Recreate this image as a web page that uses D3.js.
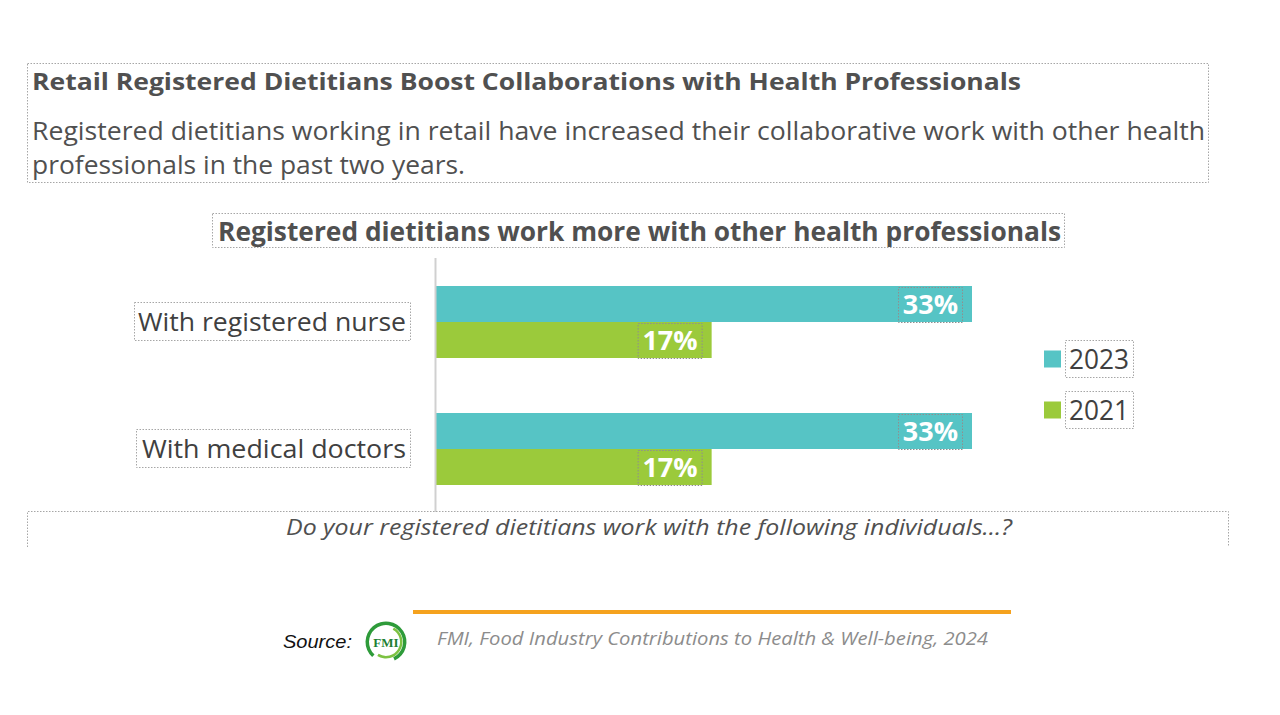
<!DOCTYPE html>
<html><head><meta charset="utf-8">
<script src="https://cdn.jsdelivr.net/npm/d3@7"></script>
<style>body{margin:0;background:#fff}svg{display:block}</style>
</head><body>
<script>
const categories = ["With registered nurse", "With medical doctors"];
const seriesNames = ["2023", "2021"];
const values2023 = [33, 33];
const values2021 = [17, 17];
const colors = ["#56C4C5", "#9BCA3B"];

const W = 1280, H = 715;
const svg = d3.select("body").append("svg").attr("width", W).attr("height", H);
const font = "'Open Sans', 'Noto Sans', sans-serif";
const txt = "#505050";

function dotted(x, y, w, h) {
  svg.append("rect").attr("x", x).attr("y", y).attr("width", w).attr("height", h)
    .attr("fill", "none").attr("stroke", "#a6a6a6").attr("stroke-width", 1)
    .attr("stroke-dasharray", "1.5,1.5");
}

// Header box
dotted(27.5, 63.5, 1181, 119);
svg.append("text").attr("x", 32).attr("y", 90).attr("font-family", font).attr("font-weight", 700)
  .attr("font-size", 24).attr("fill", txt).attr("textLength", 989).attr("lengthAdjust", "spacingAndGlyphs")
  .text("Retail Registered Dietitians Boost Collaborations with Health Professionals");
svg.append("text").attr("x", 32).attr("y", 140).attr("font-family", font)
  .attr("font-size", 25).attr("fill", txt).attr("textLength", 1173).attr("lengthAdjust", "spacingAndGlyphs")
  .text("Registered dietitians working in retail have increased their collaborative work with other health");
svg.append("text").attr("x", 32).attr("y", 174).attr("font-family", font)
  .attr("font-size", 25).attr("fill", txt).attr("textLength", 433).attr("lengthAdjust", "spacingAndGlyphs")
  .text("professionals in the past two years.");

// Chart title
dotted(212.5, 213.5, 852, 34);
svg.append("text").attr("x", 218).attr("y", 241).attr("font-family", font).attr("font-weight", 700)
  .attr("font-size", 27).attr("fill", txt).attr("textLength", 843).attr("lengthAdjust", "spacingAndGlyphs")
  .text("Registered dietitians work more with other health professionals");

// Scales
const x = d3.scaleLinear().domain([0, 33]).range([435, 972]);
const y = d3.scaleBand().domain(categories).range([258.5, 512.5]);
const inner = d3.scaleBand().domain(seriesNames).range([0, 72]);
const bandOff = (y.bandwidth() - 72) / 2;

const data = categories.map((c, i) => ({cat: c, vals: [values2023[i], values2021[i]]}));

const g = svg.append("g");
data.forEach(d => {
  d.vals.forEach((v, j) => {
    const yy = y(d.cat) + bandOff + inner(seriesNames[j]);
    g.append("rect").attr("x", x(0)).attr("y", yy).attr("width", x(v) - x(0))
      .attr("height", inner.bandwidth()).attr("fill", colors[j]);
    const xr = x(v) - 10;
    svg.append("rect").attr("x", xr - 64 + 0.5).attr("y", yy + 1.5).attr("width", 64).attr("height", 35)
      .attr("fill", "none").attr("stroke", "#8f8f8f").attr("stroke-dasharray", "1.5,1.5");
    svg.append("text").attr("x", xr - 4).attr("y", yy + 28).attr("text-anchor", "end")
      .attr("font-family", font).attr("font-weight", 700).attr("font-size", 27).attr("fill", "#fff")
      .text(v + "%");
  });
});

// Axis line
svg.append("line").attr("x1", 435.5).attr("x2", 435.5).attr("y1", 258).attr("y2", 512)
  .attr("stroke", "#d0d0d0").attr("stroke-width", 2);

// Category labels
const yAxis = svg.append("g").attr("transform", "translate(406,0)")
  .call(d3.axisLeft(y).tickSize(0).tickPadding(0));
yAxis.select(".domain").remove();
yAxis.selectAll("text").attr("font-family", font).attr("font-size", 26).attr("fill", "#404040")
  .attr("dy", "0.35em");
categories.forEach((c, i) => {
  const cy = y(c) + y.bandwidth() / 2;
  const w = i === 0 ? 276 : 274;
  dotted(410.5 - w, cy - 19.5, w, 38);
});
yAxis.selectAll("text").each(function(d, i) {
  d3.select(this).attr("textLength", i === 0 ? 268 : 264).attr("lengthAdjust", "spacingAndGlyphs");
});

// Legend
seriesNames.forEach((s, i) => {
  const ly = 359 + i * 51;
  svg.append("rect").attr("x", 1044).attr("y", ly - 8.5).attr("width", 17).attr("height", 17).attr("fill", colors[i]);
  dotted(1065.5, ly - 18.5, 68, 37);
  svg.append("text").attr("x", 1069).attr("y", ly + 10).attr("font-family", font).attr("font-size", 27)
    .attr("fill", "#404040").attr("textLength", 60).attr("lengthAdjust", "spacingAndGlyphs").text(s);
});

// Note box (open bottom)
svg.append("path").attr("d", "M27.5,547 V511.5 H1228.5 V547").attr("fill", "none")
  .attr("stroke", "#a6a6a6").attr("stroke-dasharray", "1.5,1.5");
svg.append("text").attr("x", 286).attr("y", 535).attr("font-family", font).attr("font-style", "italic")
  .attr("font-size", 22).attr("fill", txt).attr("textLength", 726).attr("lengthAdjust", "spacingAndGlyphs")
  .text("Do your registered dietitians work with the following individuals...?");

// Footer
svg.append("line").attr("x1", 413).attr("x2", 1011).attr("y1", 612).attr("y2", 612)
  .attr("stroke", "#F5A21E").attr("stroke-width", 4);
svg.append("text").attr("x", 283).attr("y", 648).attr("font-family", "'Liberation Sans', Arial, sans-serif")
  .attr("font-style", "italic").attr("font-size", 18).attr("fill", "#111")
  .attr("textLength", 69).attr("lengthAdjust", "spacingAndGlyphs").text("Source:");
// FMI logo
const logo = svg.append("g").attr("transform", "translate(386,642)");
logo.append("path").attr("d", d3.arc()({innerRadius: 17, outerRadius: 20.5, startAngle: -2.4, endAngle: 2.7}))
  .attr("fill", "#2E9B3A");
logo.append("path").attr("d", d3.arc()({innerRadius: 14, outerRadius: 16.5, startAngle: 0.5, endAngle: 3.7}))
  .attr("fill", "#7DC242");
logo.append("text").attr("text-anchor", "middle").attr("y", 4.5).attr("font-family", "'Liberation Serif', serif")
  .attr("font-weight", 700).attr("font-size", 13).attr("fill", "#1E7F33").text("FMI");
svg.append("text").attr("x", 437).attr("y", 645).attr("font-family", font).attr("font-style", "italic")
  .attr("font-size", 19).attr("fill", "#8C8C8C").attr("textLength", 551).attr("lengthAdjust", "spacingAndGlyphs")
  .text("FMI, Food Industry Contributions to Health & Well-being, 2024");
</script>
</body></html>
